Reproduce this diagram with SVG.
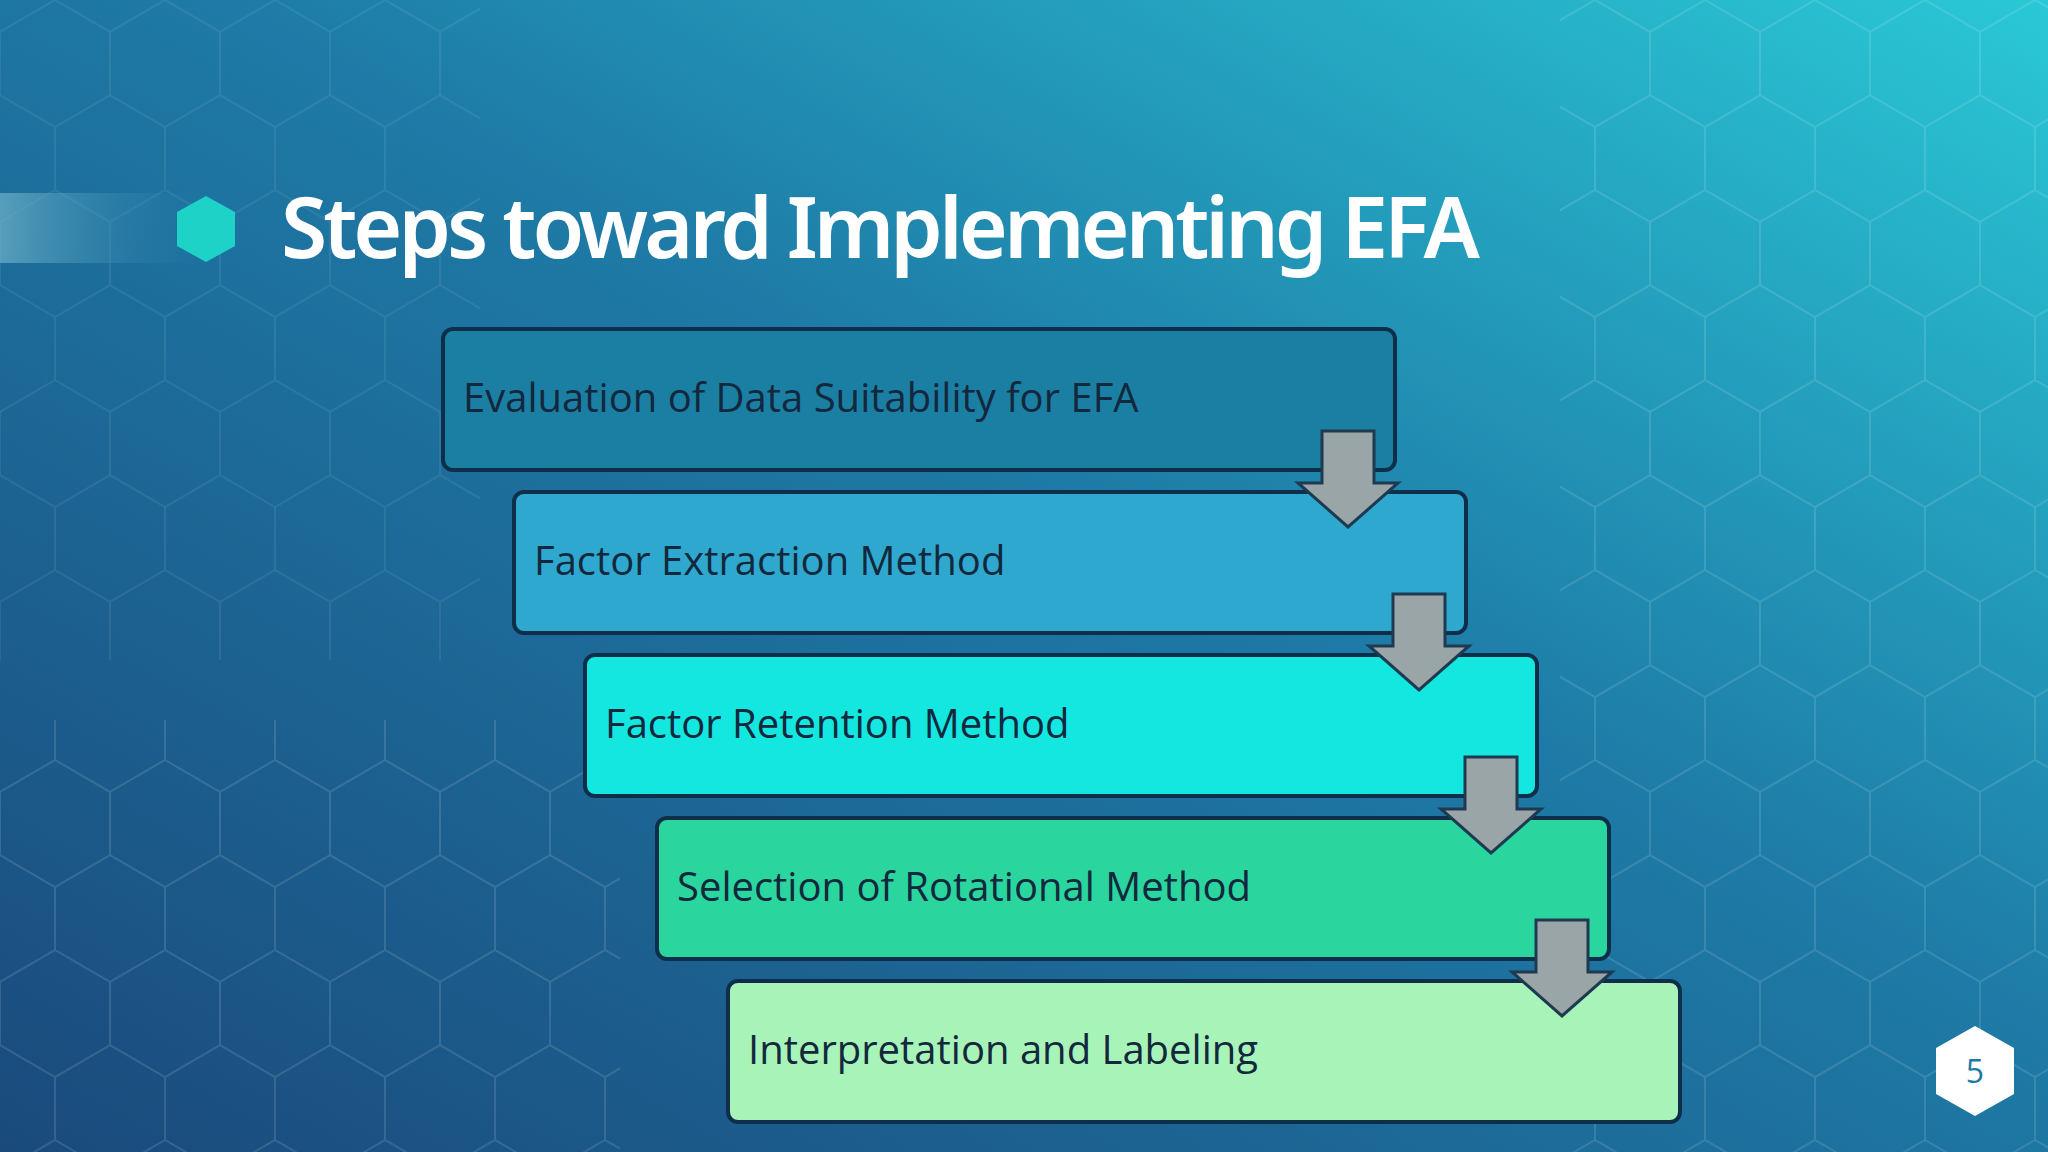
<svg xmlns="http://www.w3.org/2000/svg" width="2048" height="1152" viewBox="0 0 2048 1152">
<defs>
<linearGradient id="bg" x1="0" y1="1" x2="1" y2="0">
<stop offset="0" stop-color="#1a4a7c"/><stop offset="0.55" stop-color="#1e7aa6"/><stop offset="1" stop-color="#2ac8d6"/>
</linearGradient>
<linearGradient id="bar" x1="0" y1="0" x2="1" y2="0">
<stop offset="0" stop-color="#6fb3c9" stop-opacity="0.7"/><stop offset="1" stop-color="#1e7aa6" stop-opacity="0"/>
</linearGradient>
<pattern id="hex" width="110" height="190" patternUnits="userSpaceOnUse">
<path d="M0,32 L55,0 L110,32 L110,95 L55,127 L0,95 Z M55,127 L55,190" fill="none" stroke="#ffffff" stroke-opacity="0.12" stroke-width="2"/>
</pattern>
<style>
.box{stroke:#0f2e4a;stroke-width:4}
.lbl{font-family:"Open Sans","Noto Sans",sans-serif;font-size:40px;fill:#13283c}
.arr{fill:#9aa5a8;stroke:#1e3a50;stroke-width:3}
</style>
</defs>
<rect width="2048" height="1152" fill="url(#bg)"/>
<rect x="1560" y="0" width="488" height="1152" fill="url(#hex)"/>
<rect x="0" y="720" width="620" height="432" fill="url(#hex)"/>
<rect x="0" y="0" width="480" height="660" fill="url(#hex)" opacity="0.6"/>
<g id="title">
<rect x="0" y="193" width="220" height="70" fill="url(#bar)"/>
<polygon points="206,196 235,212 235,246 206,262 177,246 177,212" fill="#1ed2c8"/>
<text x="281" y="258" font-family="'Noto Sans','Open Sans',sans-serif" font-weight="600" font-size="84" fill="#ffffff" textLength="1199">Steps toward Implementing EFA</text>
</g>
<g id="n1"><rect class="box" x="443" y="329" width="952" height="141" rx="10" fill="#1a7fa3"/><text class="lbl" x="463" y="412">Evaluation of Data Suitability for EFA</text></g>
<g id="n2"><rect class="box" x="514" y="492" width="952" height="141" rx="10" fill="#2fa8cf"/><text class="lbl" x="534" y="575">Factor Extraction Method</text></g>
<g id="n3"><rect class="box" x="585" y="655" width="952" height="141" rx="10" fill="#14e6e0"/><text class="lbl" x="605" y="738">Factor Retention Method</text></g>
<g id="n4"><rect class="box" x="657" y="818" width="952" height="141" rx="10" fill="#2ad69e"/><text class="lbl" x="677" y="901">Selection of Rotational Method</text></g>
<g id="n5"><rect class="box" x="728" y="981" width="952" height="141" rx="10" fill="#a8f4b8"/><text class="lbl" x="748" y="1064">Interpretation and Labeling</text></g>
<g id="connectors">
<polygon class="arr" transform="translate(1348,431)" points="-26,0 26,0 26,52 50,52 0,96 -50,52 -26,52"/>
<polygon class="arr" transform="translate(1419,594)" points="-26,0 26,0 26,52 50,52 0,96 -50,52 -26,52"/>
<polygon class="arr" transform="translate(1491,757)" points="-26,0 26,0 26,52 50,52 0,96 -50,52 -26,52"/>
<polygon class="arr" transform="translate(1562,920)" points="-26,0 26,0 26,52 50,52 0,96 -50,52 -26,52"/>
</g>
<g id="page">
<polygon points="1975,1026 2014,1048 2014,1094 1975,1116 1936,1094 1936,1048" fill="#ffffff"/>
<text x="1975" y="1083" text-anchor="middle" font-family="'Open Sans',sans-serif" font-size="32" fill="#1e7aa6">5</text>
</g>
</svg>
